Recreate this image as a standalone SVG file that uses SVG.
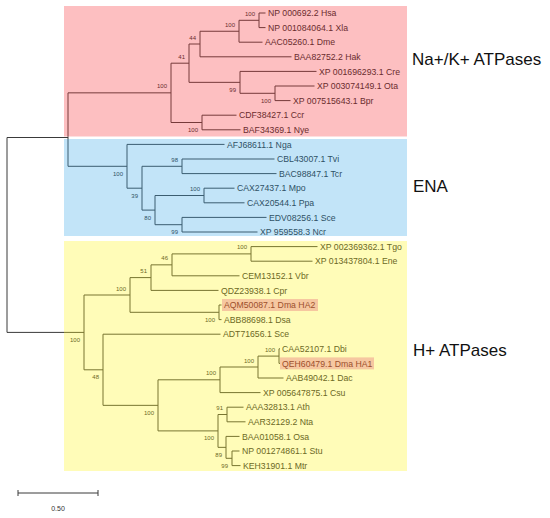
<svg xmlns="http://www.w3.org/2000/svg" width="550" height="518" viewBox="0 0 550 518">
<style>
text{font-family:"Liberation Sans",Arial,sans-serif}
.t{font-size:8.7px}
.b{font-size:6px;text-anchor:end}
.big{font-size:17px;fill:#111}
.pk{fill:#6a2c2e}.bl{fill:#2f5165}.yl{fill:#6c6925}
.hl{fill:#9c4f2c}
path{fill:none;stroke-width:1}
.lp{stroke:#763a3a}.lb{stroke:#3b5d71}.ly{stroke:#787531}.lg{stroke:#3a3a3a}
</style>
<rect width="550" height="518" fill="#fff"/>
<g id="clades">
<rect id="bg-nak" x="64" y="6" width="343" height="130.5" fill="#fdbfc1"/>
<rect id="bg-ena" x="64" y="139" width="343" height="97" fill="#c2e4f8"/>
<rect id="bg-h" x="64" y="241" width="343" height="230" fill="#fffcb8"/>
</g>
<g id="connectors">
<path class="lg" d="M7,137.5V332.4M7,137.5H68M7,332.4H64M68,136.5V139"/>
<path class="ly" d="M64,332.4H84"/>
<path class="lp" d="M68,92.85V136.5M68,92.85H171
M171,63.2V122.5M171,63.2H189M171,122.5H202
M189,44V82.35M189,44H200M189,82.35H240
M200,31.25V56.8M200,31.25H239M200,56.8H291.5
M239,20.3V42.2M239,20.3H259M239,42.2H262.5
M259,13V27.6M259,13H265.5M259,27.6H265.5
M240,71.4V93.3M240,71.4H316.5M240,93.3H275
M275,86V100.6M275,86H314.5M275,100.6H290.5
M202,115.2V129.8M202,115.2H236.5M202,129.8H240.5"/>
<path class="lb" d="M68,139V166.3M68,166.3H127
M127,144.4V188.2M127,144.4H224.5M127,188.2H142
M142,166.3V210.1M142,166.3H182M142,210.1H155
M182,159V173.6M182,159H274.5M182,173.6H276.5
M155,195.5V224.7M155,195.5H204M155,224.7H182
M204,188.2V202.8M204,188.2H234.5M204,202.8H244.5
M182,217.4V232M182,217.4H266.5M182,232H257.5"/>
<path class="ly" d="M84,295V369.8M84,295H130M84,369.8H103
M130,277.6V312.3M130,277.6H151M130,312.3H219
M151,264.85V290.4M151,264.85H172M151,290.4H218.5
M172,253.9V275.8M172,253.9H251M172,275.8H239.5
M251,246.6V261.2M251,246.6H317.5M251,261.2H312.5
M219,305V319.6M219,305H221.5M219,319.6H221.5
M103,334.2V405.35M103,334.2H220.5M103,405.35H158
M158,379.8V430.9M158,379.8H220M158,430.9H218
M220,367V392.6M220,367H258M220,392.6H260.5
M258,356.1V378M258,356.1H279M258,378H283.5
M279,348.8V363.4M279,348.8H280M279,363.4H280
M218,414.5V447.35M218,414.5H227M218,447.35H226
M227,407.2V421.8M227,407.2H243.5M227,421.8H245.5
M226,436.4V458.3M226,436.4H239.5M226,458.3H232
M232,451V465.6M232,451H239.5M232,465.6H240.5"/>
</g>
<g id="tips-nak" class="t pk">
<g id="tip-hsa"><text x="268" y="16.1">NP 000692.2 Hsa</text></g>
<g id="tip-xla"><text x="268" y="30.7">NP 001084064.1 Xla</text></g>
<g id="tip-dme"><text x="265" y="45.3">AAC05260.1 Dme</text></g>
<g id="tip-hak"><text x="294" y="59.9">BAA82752.2 Hak</text></g>
<g id="tip-cre"><text x="319" y="74.5">XP 001696293.1 Cre</text></g>
<g id="tip-ota"><text x="317" y="89.1">XP 003074149.1 Ota</text></g>
<g id="tip-bpr"><text x="293" y="103.7">XP 007515643.1 Bpr</text></g>
<g id="tip-ccr"><text x="239" y="118.3">CDF38427.1 Ccr</text></g>
<g id="tip-nye"><text x="243" y="132.9">BAF34369.1 Nye</text></g>
</g>
<g id="tips-ena" class="t bl">
<g id="tip-nga"><text x="227" y="147.5">AFJ68611.1 Nga</text></g>
<g id="tip-tvi"><text x="277" y="162.1">CBL43007.1 Tvi</text></g>
<g id="tip-tcr"><text x="279" y="176.7">BAC98847.1 Tcr</text></g>
<g id="tip-mpo"><text x="237" y="191.3">CAX27437.1 Mpo</text></g>
<g id="tip-ppa"><text x="247" y="205.9">CAX20544.1 Ppa</text></g>
<g id="tip-sce-ena"><text x="269" y="220.5">EDV08256.1 Sce</text></g>
<g id="tip-ncr"><text x="260" y="235.1">XP 959558.3 Ncr</text></g>
</g>
<g id="tips-h" class="t yl">
<g id="tip-tgo"><text x="320" y="249.7">XP 002369362.1 Tgo</text></g>
<g id="tip-ene"><text x="315" y="264.3">XP 013437804.1 Ene</text></g>
<g id="tip-vbr"><text x="242" y="278.9">CEM13152.1 Vbr</text></g>
<g id="tip-cpr"><text x="221" y="293.5">QDZ23938.1 Cpr</text></g>
<g id="tip-ha2"><rect x="222" y="299" width="96" height="12" fill="#f6c7a0"/><text class="hl" x="224" y="308.1">AQM50087.1 Dma HA2</text></g>
<g id="tip-dsa"><text x="224" y="322.7">ABB88698.1 Dsa</text></g>
<g id="tip-sce-h"><text x="223" y="337.3">ADT71656.1 Sce</text></g>
<g id="tip-dbi"><text x="282" y="351.9">CAA52107.1 Dbi</text></g>
<g id="tip-ha1"><rect x="280" y="357.4" width="94" height="12" fill="#f6c7a0"/><text class="hl" x="282" y="366.5">QEH60479.1 Dma HA1</text></g>
<g id="tip-dac"><text x="286" y="381.1">AAB49042.1 Dac</text></g>
<g id="tip-csu"><text x="263" y="395.7">XP 005647875.1 Csu</text></g>
<g id="tip-ath"><text x="246" y="410.3">AAA32813.1 Ath</text></g>
<g id="tip-nta"><text x="248" y="424.9">AAR32129.2 Nta</text></g>
<g id="tip-osa"><text x="242" y="439.5">BAA01058.1 Osa</text></g>
<g id="tip-stu"><text x="242" y="454.1">NP 001274861.1 Stu</text></g>
<g id="tip-mtr"><text x="243" y="468.7">KEH31901.1 Mtr</text></g>
</g>
<g id="bootstrap-nak" class="b pk">
<g id="n-p1"><text x="255" y="15.8">100</text></g>
<g id="n-p2"><text x="235" y="26.8">100</text></g>
<g id="n-p3"><text x="196" y="39.5">44</text></g>
<g id="n-p6"><text x="185" y="58.7">41</text></g>
<g id="n-p8"><text x="167" y="88.4">100</text></g>
<g id="n-p5"><text x="236" y="91.9">99</text></g>
<g id="n-p4"><text x="271" y="102.8">100</text></g>
<g id="n-p7"><text x="198" y="132">100</text></g>
</g>
<g id="bootstrap-ena" class="b bl">
<g id="n-e1"><text x="178" y="161.8">98</text></g>
<g id="n-e6"><text x="123" y="175.8">100</text></g>
<g id="n-e2"><text x="200" y="191">100</text></g>
<g id="n-e5"><text x="138" y="197.7">39</text></g>
<g id="n-e4"><text x="151" y="219.6">80</text></g>
<g id="n-e3"><text x="178" y="234.2">99</text></g>
</g>
<g id="bootstrap-h" class="b yl">
<g id="n-h1"><text x="247" y="249.4">100</text></g>
<g id="n-h2"><text x="168" y="260.4">46</text></g>
<g id="n-h3"><text x="147" y="273.1">51</text></g>
<g id="n-h5"><text x="126" y="290.5">100</text></g>
<g id="n-h4"><text x="215" y="321.8">100</text></g>
<g id="n-h15"><text x="80" y="341.9">100</text></g>
<g id="n-h6"><text x="275" y="351.6">100</text></g>
<g id="n-h7"><text x="254" y="362.5">100</text></g>
<g id="n-h8"><text x="216" y="375.3">100</text></g>
<g id="n-h14"><text x="99" y="379.3">48</text></g>
<g id="n-h9"><text x="223" y="410">91</text></g>
<g id="n-h13"><text x="154" y="414.9">100</text></g>
<g id="n-h12"><text x="214" y="440.4">100</text></g>
<g id="n-h11"><text x="222" y="456.9">89</text></g>
<g id="n-h10"><text x="228" y="467.8">99</text></g>
</g>
<g id="clade-labels">
<text class="big" x="412" y="65">Na+/K+ ATPases</text>
<text class="big" x="413" y="192">ENA</text>
<text class="big" x="413" y="356">H+ ATPases</text>
</g>
<g id="scale-bar">
<path class="lg" d="M18,493H98M18,490V496M98,490V496"/>
<text x="58" y="511" font-size="7" text-anchor="middle" fill="#333">0.50</text>
</g>
</svg>
